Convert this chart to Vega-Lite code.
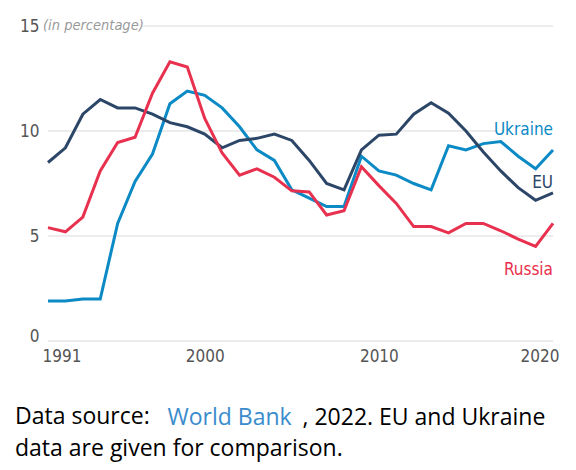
{
  "$schema": "https://vega.github.io/schema/vega-lite/v6.json",
  "autosize": "none",
  "width": 505,
  "height": 315,
  "padding": {"left": 48, "top": 26, "right": 23, "bottom": 129},
  "background": "white",
  "config": {
    "view": {"stroke": null},
    "axis": {
      "domain": false,
      "ticks": false,
      "grid": false,
      "labelFont": "DejaVu Sans Condensed, Roboto, sans-serif",
      "labelFontSize": 17,
      "labelColor": "#555555"
    }
  },
  "title": {
    "text": "Data source:",
    "subtitle": "data are given for comparison.",
    "orient": "bottom",
    "anchor": "start",
    "frame": "group",
    "dx": -33,
    "offset": -5,
    "baseline": "alphabetic",
    "font": "Open Sans",
    "fontSize": 23,
    "fontWeight": "normal",
    "color": "#000000",
    "subtitleFont": "Open Sans",
    "subtitleFontSize": 23,
    "subtitleColor": "#000000",
    "subtitlePadding": 9
  },
  "data": {
    "values": [
      {"year": 1991, "country": "Ukraine", "value": 1.9},
      {"year": 1992, "country": "Ukraine", "value": 1.9},
      {"year": 1993, "country": "Ukraine", "value": 2.0},
      {"year": 1994, "country": "Ukraine", "value": 2.0},
      {"year": 1995, "country": "Ukraine", "value": 5.6},
      {"year": 1996, "country": "Ukraine", "value": 7.6},
      {"year": 1997, "country": "Ukraine", "value": 8.9},
      {"year": 1998, "country": "Ukraine", "value": 11.3},
      {"year": 1999, "country": "Ukraine", "value": 11.9},
      {"year": 2000, "country": "Ukraine", "value": 11.7},
      {"year": 2001, "country": "Ukraine", "value": 11.1},
      {"year": 2002, "country": "Ukraine", "value": 10.2},
      {"year": 2003, "country": "Ukraine", "value": 9.1},
      {"year": 2004, "country": "Ukraine", "value": 8.6},
      {"year": 2005, "country": "Ukraine", "value": 7.2},
      {"year": 2006, "country": "Ukraine", "value": 6.8},
      {"year": 2007, "country": "Ukraine", "value": 6.4},
      {"year": 2008, "country": "Ukraine", "value": 6.4},
      {"year": 2009, "country": "Ukraine", "value": 8.8},
      {"year": 2010, "country": "Ukraine", "value": 8.1},
      {"year": 2011, "country": "Ukraine", "value": 7.9},
      {"year": 2012, "country": "Ukraine", "value": 7.5},
      {"year": 2013, "country": "Ukraine", "value": 7.2},
      {"year": 2014, "country": "Ukraine", "value": 9.3},
      {"year": 2015, "country": "Ukraine", "value": 9.1},
      {"year": 2016, "country": "Ukraine", "value": 9.4},
      {"year": 2017, "country": "Ukraine", "value": 9.5},
      {"year": 2018, "country": "Ukraine", "value": 8.8},
      {"year": 2019, "country": "Ukraine", "value": 8.2},
      {"year": 2020, "country": "Ukraine", "value": 9.1},
      {"year": 1991, "country": "EU", "value": 8.5},
      {"year": 1992, "country": "EU", "value": 9.2},
      {"year": 1993, "country": "EU", "value": 10.8},
      {"year": 1994, "country": "EU", "value": 11.5},
      {"year": 1995, "country": "EU", "value": 11.1},
      {"year": 1996, "country": "EU", "value": 11.1},
      {"year": 1997, "country": "EU", "value": 10.8},
      {"year": 1998, "country": "EU", "value": 10.4},
      {"year": 1999, "country": "EU", "value": 10.2},
      {"year": 2000, "country": "EU", "value": 9.85},
      {"year": 2001, "country": "EU", "value": 9.2},
      {"year": 2002, "country": "EU", "value": 9.55},
      {"year": 2003, "country": "EU", "value": 9.65},
      {"year": 2004, "country": "EU", "value": 9.85},
      {"year": 2005, "country": "EU", "value": 9.55},
      {"year": 2006, "country": "EU", "value": 8.6},
      {"year": 2007, "country": "EU", "value": 7.5},
      {"year": 2008, "country": "EU", "value": 7.2},
      {"year": 2009, "country": "EU", "value": 9.1},
      {"year": 2010, "country": "EU", "value": 9.8},
      {"year": 2011, "country": "EU", "value": 9.85},
      {"year": 2012, "country": "EU", "value": 10.8},
      {"year": 2013, "country": "EU", "value": 11.35},
      {"year": 2014, "country": "EU", "value": 10.85},
      {"year": 2015, "country": "EU", "value": 10.0},
      {"year": 2016, "country": "EU", "value": 9.0},
      {"year": 2017, "country": "EU", "value": 8.1},
      {"year": 2018, "country": "EU", "value": 7.3},
      {"year": 2019, "country": "EU", "value": 6.7},
      {"year": 2020, "country": "EU", "value": 7.05},
      {"year": 1991, "country": "Russia", "value": 5.4},
      {"year": 1992, "country": "Russia", "value": 5.2},
      {"year": 1993, "country": "Russia", "value": 5.9},
      {"year": 1994, "country": "Russia", "value": 8.1},
      {"year": 1995, "country": "Russia", "value": 9.45},
      {"year": 1996, "country": "Russia", "value": 9.7},
      {"year": 1997, "country": "Russia", "value": 11.8},
      {"year": 1998, "country": "Russia", "value": 13.3},
      {"year": 1999, "country": "Russia", "value": 13.05},
      {"year": 2000, "country": "Russia", "value": 10.6},
      {"year": 2001, "country": "Russia", "value": 8.95},
      {"year": 2002, "country": "Russia", "value": 7.9},
      {"year": 2003, "country": "Russia", "value": 8.2},
      {"year": 2004, "country": "Russia", "value": 7.8},
      {"year": 2005, "country": "Russia", "value": 7.15},
      {"year": 2006, "country": "Russia", "value": 7.1},
      {"year": 2007, "country": "Russia", "value": 6.0},
      {"year": 2008, "country": "Russia", "value": 6.2},
      {"year": 2009, "country": "Russia", "value": 8.3},
      {"year": 2010, "country": "Russia", "value": 7.4},
      {"year": 2011, "country": "Russia", "value": 6.55},
      {"year": 2012, "country": "Russia", "value": 5.45},
      {"year": 2013, "country": "Russia", "value": 5.45},
      {"year": 2014, "country": "Russia", "value": 5.15},
      {"year": 2015, "country": "Russia", "value": 5.6},
      {"year": 2016, "country": "Russia", "value": 5.6},
      {"year": 2017, "country": "Russia", "value": 5.25},
      {"year": 2018, "country": "Russia", "value": 4.85},
      {"year": 2019, "country": "Russia", "value": 4.5},
      {"year": 2020, "country": "Russia", "value": 5.6}
    ]
  },
  "layer": [
    {
      "data": {"values": [{}]},
      "mark": {"type": "rule", "color": "#d9d9d9", "strokeWidth": 1},
      "encoding": {"x": {"datum": 1991}, "x2": {"datum": 2020}, "y": {"datum": 0}}
    },
    {
      "data": {"values": [{}]},
      "mark": {"type": "rule", "color": "#d9d9d9", "strokeWidth": 1},
      "encoding": {"x": {"datum": 1991}, "x2": {"datum": 2020}, "y": {"datum": 5}}
    },
    {
      "data": {"values": [{}]},
      "mark": {"type": "rule", "color": "#d9d9d9", "strokeWidth": 1},
      "encoding": {"x": {"datum": 1991}, "x2": {"datum": 2016.75}, "y": {"datum": 10}}
    },
    {
      "data": {"values": [{}]},
      "mark": {"type": "rule", "color": "#d9d9d9", "strokeWidth": 1},
      "encoding": {"x": {"datum": 1996.47}, "x2": {"datum": 2020}, "y": {"datum": 15}}
    },
    {
      "data": {"values": [{"note": "(in percentage)"}]},
      "mark": {
        "type": "text",
        "align": "left",
        "baseline": "middle",
        "dx": -5,
        "font": "DejaVu Sans Condensed, Roboto, sans-serif",
        "fontSize": 14.5,
        "fontStyle": "italic",
        "color": "#9a9a9a"
      },
      "encoding": {"x": {"datum": 1991}, "y": {"datum": 15}, "text": {"field": "note"}}
    },
    {
      "mark": {"type": "line", "strokeWidth": 3},
      "encoding": {
        "x": {
          "field": "year",
          "type": "quantitative",
          "scale": {"domain": [1991, 2020], "nice": false, "zero": false},
          "axis": {
            "values": [1991, 2000, 2010, 2020],
            "format": "d",
            "labelPadding": 7,
            "labelFlush": true,
            "labelFlushOffset": 6,
            "title": ", 2022. EU and Ukraine",
            "titleX": 254,
            "titleY": 83,
            "titleAlign": "left",
            "titleBaseline": "alphabetic",
            "titleFont": "Open Sans",
            "titleFontSize": 23,
            "titleFontWeight": "normal",
            "titleColor": "#000000"
          }
        },
        "y": {
          "field": "value",
          "type": "quantitative",
          "scale": {"domain": [0, 15], "nice": false},
          "axis": {
            "values": [0, 5, 10, 15],
            "labelPadding": 9,
            "labelBaseline": {"condition": {"test": "datum.value === 0", "value": "alphabetic"}, "value": "middle"},
            "title": "World Bank",
            "titleAngle": 0,
            "titleX": 119,
            "titleY": 398,
            "titleAlign": "left",
            "titleBaseline": "alphabetic",
            "titleFont": "Open Sans",
            "titleFontSize": 23,
            "titleFontWeight": "normal",
            "titleColor": "#3a8ccc"
          }
        },
        "color": {
          "field": "country",
          "type": "nominal",
          "scale": {"domain": ["Ukraine", "EU", "Russia"], "range": ["#0b8ac5", "#2c4668", "#e8314f"]},
          "legend": null
        }
      }
    },
    {
      "transform": [{"filter": "datum.year === 2020 && datum.country === 'Ukraine'"}],
      "mark": {"type": "text", "align": "right", "baseline": "alphabetic", "dy": -15, "font": "DejaVu Sans Condensed, Roboto, sans-serif", "fontSize": 17},
      "encoding": {
        "x": {"field": "year", "type": "quantitative"},
        "y": {"field": "value", "type": "quantitative"},
        "text": {"field": "country"},
        "color": {"field": "country", "type": "nominal", "legend": null}
      }
    },
    {
      "transform": [{"filter": "datum.year === 2020 && datum.country === 'EU'"}],
      "mark": {"type": "text", "align": "right", "baseline": "alphabetic", "dy": -5, "font": "DejaVu Sans Condensed, Roboto, sans-serif", "fontSize": 17},
      "encoding": {
        "x": {"field": "year", "type": "quantitative"},
        "y": {"field": "value", "type": "quantitative"},
        "text": {"field": "country"},
        "color": {"field": "country", "type": "nominal", "legend": null}
      }
    },
    {
      "transform": [{"filter": "datum.year === 2020 && datum.country === 'Russia'"}],
      "mark": {"type": "text", "align": "right", "baseline": "alphabetic", "dy": 52, "font": "DejaVu Sans Condensed, Roboto, sans-serif", "fontSize": 17},
      "encoding": {
        "x": {"field": "year", "type": "quantitative"},
        "y": {"field": "value", "type": "quantitative"},
        "text": {"field": "country"},
        "color": {"field": "country", "type": "nominal", "legend": null}
      }
    }
  ]
}
